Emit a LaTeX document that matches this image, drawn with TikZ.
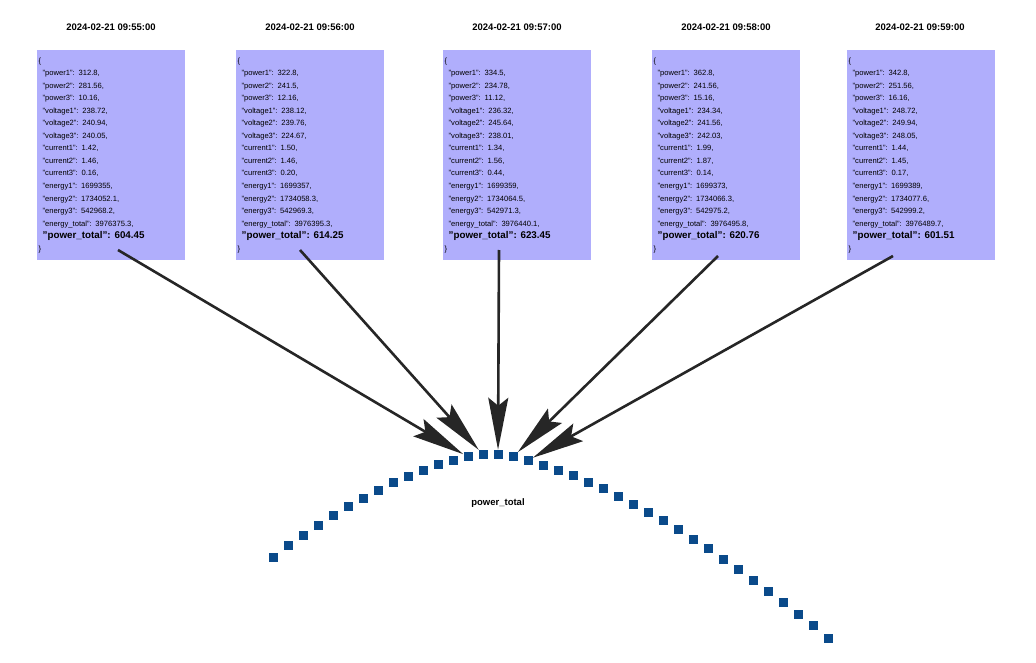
\documentclass[tikz,border=0pt]{standalone}
\usepackage{fontspec}
\setmainfont{Liberation Sans}
\usetikzlibrary{arrows.meta}
\definecolor{boxblue}{HTML}{B0AEFC}
\definecolor{markblue}{HTML}{0A4A8A}
\definecolor{arrowgray}{HTML}{262626}
\newcommand{\kv}[2]{\\\hspace*{4pt}"#1": #2,}
\tikzset{
  jbox/.style={fill=boxblue,anchor=north west,align=left,inner sep=1.5pt,
    minimum width=148pt,minimum height=210pt,text width=145pt,
    font=\fontsize{7.6}{12.55}\selectfont},
  stamp/.style={font=\bfseries\fontsize{9.5}{11}\selectfont},
  sample/.style={fill=markblue,minimum size=9pt,inner sep=0pt},
  feed/.style={line width=2.6pt,arrowgray,-{Stealth[length=52pt,width=20pt,inset=8pt]}}
}
\begin{document}
\begin{tikzpicture}[x=1pt,y=-1pt]
    \useasboundingbox (0,0) rectangle (1036,663);
    \node[stamp] (t1) at (111,27) {2024-02-21 09:55:00};
    \node[stamp] (t2) at (310,27) {2024-02-21 09:56:00};
    \node[stamp] (t3) at (517,27) {2024-02-21 09:57:00};
    \node[stamp] (t4) at (726,27) {2024-02-21 09:58:00};
    \node[stamp] (t5) at (920,27) {2024-02-21 09:59:00};
    \node[jbox] (b1) at (37,50) {\{\kv{power1}{312.8}\kv{power2}{281.56}\kv{power3}{10.16}\kv{voltage1}{238.72}\kv{voltage2}{240.94}\kv{voltage3}{240.05}\kv{current1}{1.42}\kv{current2}{1.46}\kv{current3}{0.16}\kv{energy1}{1699355}\kv{energy2}{1734052.1}\kv{energy3}{542968.2}\kv{energy\_total}{3976375.3}\\\hspace*{4pt}{\bfseries\fontsize{9.8}{12.55}\selectfont "power\_total": 604.45}\\\}};
    \node[jbox] (b2) at (236,50) {\{\kv{power1}{322.8}\kv{power2}{241.5}\kv{power3}{12.16}\kv{voltage1}{238.12}\kv{voltage2}{239.76}\kv{voltage3}{224.67}\kv{current1}{1.50}\kv{current2}{1.46}\kv{current3}{0.20}\kv{energy1}{1699357}\kv{energy2}{1734058.3}\kv{energy3}{542969.3}\kv{energy\_total}{3976395.3}\\\hspace*{4pt}{\bfseries\fontsize{9.8}{12.55}\selectfont "power\_total": 614.25}\\\}};
    \node[jbox] (b3) at (443,50) {\{\kv{power1}{334.5}\kv{power2}{234.78}\kv{power3}{11.12}\kv{voltage1}{236.32}\kv{voltage2}{245.64}\kv{voltage3}{238.01}\kv{current1}{1.34}\kv{current2}{1.56}\kv{current3}{0.44}\kv{energy1}{1699359}\kv{energy2}{1734064.5}\kv{energy3}{542971.3}\kv{energy\_total}{3976440.1}\\\hspace*{4pt}{\bfseries\fontsize{9.8}{12.55}\selectfont "power\_total": 623.45}\\\}};
    \node[jbox] (b4) at (652,50) {\{\kv{power1}{362.8}\kv{power2}{241.56}\kv{power3}{15.16}\kv{voltage1}{234.34}\kv{voltage2}{241.56}\kv{voltage3}{242.03}\kv{current1}{1.99}\kv{current2}{1.87}\kv{current3}{0.14}\kv{energy1}{1699373}\kv{energy2}{1734066.3}\kv{energy3}{542975.2}\kv{energy\_total}{3976495.8}\\\hspace*{4pt}{\bfseries\fontsize{9.8}{12.55}\selectfont "power\_total": 620.76}\\\}};
    \node[jbox] (b5) at (847,50) {\{\kv{power1}{342.8}\kv{power2}{251.56}\kv{power3}{16.16}\kv{voltage1}{248.72}\kv{voltage2}{249.94}\kv{voltage3}{248.05}\kv{current1}{1.44}\kv{current2}{1.45}\kv{current3}{0.17}\kv{energy1}{1699389}\kv{energy2}{1734077.6}\kv{energy3}{542999.2}\kv{energy\_total}{3976489.7}\\\hspace*{4pt}{\bfseries\fontsize{9.8}{12.55}\selectfont "power\_total": 601.51}\\\}};
    % series of power_total samples
    \foreach \k in {0,...,37}{
        \pgfmathsetmacro{\px}{273+15*\k}
        \pgfmathsetmacro{\py}{\px<492 ? 454+103*pow(abs(492-\px)/219+0.0001,1.6) : 454+185*pow(abs(\px-492)/337+0.0001,1.5)}
        \node[sample] (m\k) at (\px,\py) {};
    }
    \node[font=\bfseries\fontsize{9.5}{11}\selectfont] (lbl) at (498,503) {power\_total};
    \coordinate (s1) at (118,250);
    \coordinate (s2) at (300,250);
    \coordinate (s3) at (499,250);
    \coordinate (s4) at (718,256);
    \coordinate (s5) at (893,256);
    \draw[feed] (s1) -- (m13);
    \draw[feed] (s2) -- (m14);
    \draw[feed] (s3) -- (m15);
    \draw[feed] (s4) -- (m16);
    \draw[feed] (s5) -- (m17);
\end{tikzpicture}
\end{document}
